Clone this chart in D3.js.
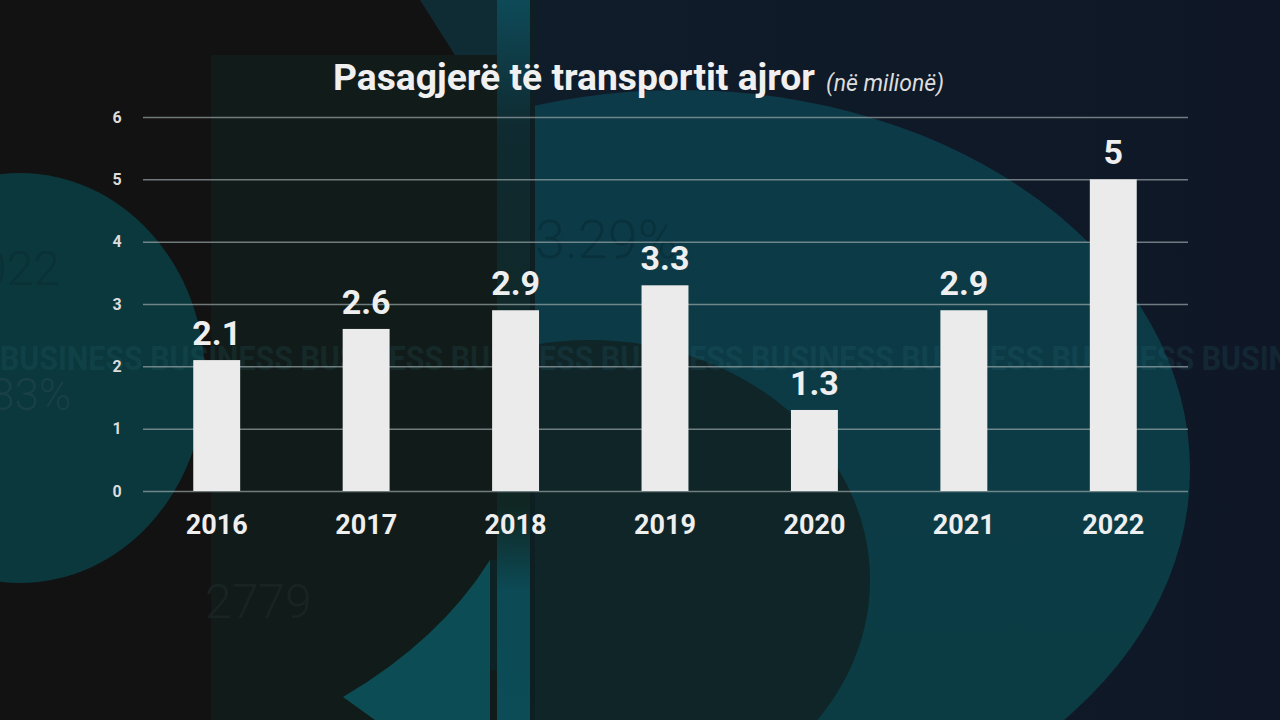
<!DOCTYPE html>
<html lang="sq">
<head>
    <meta charset="UTF-8">
    <script src="https://cdn.jsdelivr.net/npm/d3@7/dist/d3.min.js"></script>
    <title>Pasagjerë të transportit ajror</title>
    <style>
        body { margin: 0; background: #111; overflow: hidden; }
        svg { display: block; }
    </style>
</head>
<body>
    <svg width="1280" height="720"></svg>

    <script>
        // data
        const years = ['2016', '2017', '2018', '2019', '2020', '2021', '2022'];
        const passengers = [2.1, 2.6, 2.9, 3.3, 1.3, 2.9, 5];
        const yTicks = [0, 1, 2, 3, 4, 5, 6];
        const title = 'Pasagjerë të transportit ajror';
        const subtitle = '(në milionë)';

        const svg = d3.select('svg');
        const W = 1280, H = 720;

        // background (tv graphic look)
        const defs = svg.append('defs');
        const navy = defs.append('linearGradient').attr('id', 'navy')
            .attr('x1', 0).attr('y1', 0).attr('x2', 1).attr('y2', 0);
        navy.append('stop').attr('offset', '0%').attr('stop-color', '#0f202b');
        navy.append('stop').attr('offset', '100%').attr('stop-color', '#0f1726');

        const teal = defs.append('linearGradient').attr('id', 'teal')
            .attr('x1', 0).attr('y1', 0).attr('x2', 0).attr('y2', 1);
        teal.append('stop').attr('offset', '0%').attr('stop-color', '#0c3a48');
        teal.append('stop').attr('offset', '100%').attr('stop-color', '#0b3c42');

        const strip = defs.append('linearGradient').attr('id', 'strip')
            .attr('x1', 0).attr('y1', 0).attr('x2', 0).attr('y2', 1);
        strip.append('stop').attr('offset', '0%').attr('stop-color', '#0e4a58');
        strip.append('stop').attr('offset', '18%').attr('stop-color', '#0f2a30');
        strip.append('stop').attr('offset', '70%').attr('stop-color', '#102622');
        strip.append('stop').attr('offset', '82%').attr('stop-color', '#0c4a55');
        strip.append('stop').attr('offset', '100%').attr('stop-color', '#0b4c56');

        const bg = svg.append('g');
        bg.append('rect').attr('width', W).attr('height', H).attr('fill', 'url(#navy)');
        // big teal bowl
        bg.append('ellipse').attr('cx', 680).attr('cy', 470).attr('rx', 510).attr('ry', 380)
            .attr('fill', 'url(#teal)');
        // dark counter of the bowl
        bg.append('ellipse').attr('cx', 590).attr('cy', 580).attr('rx', 280).attr('ry', 240)
            .attr('fill', '#0f2528');
        // left black block
        bg.append('rect').attr('x', 0).attr('y', 0).attr('width', 535).attr('height', H).attr('fill', '#121212');
        // left teal round shape
        bg.append('ellipse').attr('cx', 20).attr('cy', 378).attr('rx', 185).attr('ry', 205)
            .attr('fill', '#0b383d');
        // top diagonal piece
        bg.append('path').attr('d', 'M420,0 L497,0 L497,60 L458,60 Z').attr('fill', '#0f2c35');
        // dark green panel
        bg.append('rect').attr('x', 211).attr('y', 55).attr('width', 286).attr('height', H - 55)
            .attr('fill', '#111b19');
        // glass strip
        bg.append('rect').attr('x', 497).attr('y', 0).attr('width', 33).attr('height', H).attr('fill', 'url(#strip)');
        bg.append('rect').attr('x', 530).attr('y', 0).attr('width', 5).attr('height', H).attr('fill', '#0e1f24');
        bg.append('path').attr('d', 'M343,697 Q440,640 490,560 L490,720 L375,720 Z').attr('fill', '#0c4d55');
        bg.append('rect').attr('x', 490).attr('y', 560).attr('width', 7).attr('height', 110).attr('fill', '#0d2225');

        // faint decorative texts
        const faint = bg.append('g').attr('font-family', 'Roboto, sans-serif');
        faint.append('text').attr('x', 0).attr('y', 370)
            .attr('font-size', 34).attr('font-weight', 700).attr('fill', '#2c7480').attr('opacity', 0.16)
            .attr('textLength', W + 10).attr('lengthAdjust', 'spacingAndGlyphs')
            .text('BUSINESS BUSINESS BUSINESS BUSINESS BUSINESS BUSINESS BUSINESS BUSINESS BUSIN');
        faint.append('text').attr('x', 535).attr('y', 258).attr('font-size', 54).attr('font-weight', 300)
            .attr('fill', '#051d24').attr('opacity', 0.3).text('3.29%');
        faint.append('text').attr('x', -10).attr('y', 410).attr('font-size', 44).attr('font-weight', 300)
            .attr('fill', '#2b4a4f').attr('opacity', 0.45).text('83%');
        faint.append('text').attr('x', 205).attr('y', 618).attr('font-size', 48).attr('font-weight', 300)
            .attr('fill', '#1f2b28').attr('opacity', 0.6).text('2779');
        faint.append('text').attr('x', -20).attr('y', 285).attr('font-size', 48).attr('font-weight', 300)
            .attr('fill', '#0a2d30').attr('opacity', 0.6).text('022');

        // scales
        const x = d3.scaleBand()
            .domain(years)
            .range([142, 1188])
            .paddingInner(0.686)
            .paddingOuter(0.343);

        const y = d3.scaleLinear()
            .domain([0, 6])
            .range([491, 117]);

        // grid + y labels
        const yAxis = d3.axisLeft(y).tickValues(yTicks).tickSize(-(1188 - 143)).tickPadding(20)
            .tickFormat(d3.format('d'));
        const gy = svg.append('g')
            .attr('transform', 'translate(143,0)')
            .call(yAxis);
        gy.select('.domain').remove();
        gy.selectAll('.tick line').attr('stroke', '#9aa6a8').attr('stroke-opacity', 0.7).attr('stroke-width', 1.5);
        gy.selectAll('.tick text')
            .attr('fill', '#dcdcdc').attr('font-family', 'Roboto, sans-serif')
            .attr('font-size', 16).attr('font-weight', 700)
            .attr('text-anchor', 'middle').attr('x', -26);

        // bars
        svg.append('g')
            .selectAll('rect')
            .data(passengers)
            .enter()
            .append('rect')
            .attr('x', (d, i) => x(years[i]))
            .attr('y', d => y(d))
            .attr('width', x.bandwidth())
            .attr('height', d => y(0) - y(d))
            .attr('fill', '#ebebeb');

        // value labels
        svg.append('g')
            .selectAll('text')
            .data(passengers)
            .enter()
            .append('text')
            .attr('x', (d, i) => x(years[i]) + x.bandwidth() / 2)
            .attr('y', d => y(d) - 15)
            .attr('text-anchor', 'middle')
            .attr('font-family', 'Roboto, sans-serif')
            .attr('font-size', 34)
            .attr('font-weight', 700)
            .attr('fill', '#efefef')
            .text(d => d);

        // x axis (years)
        const gx = svg.append('g')
            .attr('transform', `translate(0, ${y(0)})`)
            .call(d3.axisBottom(x).tickSize(0).tickPadding(24));
        gx.select('.domain').remove();
        gx.selectAll('.tick text')
            .attr('fill', '#efefef').attr('font-family', 'Roboto, sans-serif')
            .attr('font-size', 27).attr('font-weight', 700);

        // title
        svg.append('text')
            .attr('x', 333).attr('y', 90)
            .attr('font-family', 'Roboto, sans-serif')
            .attr('font-size', 36).attr('font-weight', 700)
            .attr('fill', '#f0f0f0')
            .attr('textLength', 482).attr('lengthAdjust', 'spacingAndGlyphs')
            .text(title);
        svg.append('text')
            .attr('x', 826).attr('y', 91)
            .attr('font-family', 'Roboto, sans-serif')
            .attr('font-size', 23).attr('font-style', 'italic')
            .attr('fill', '#dddddd')
            .text(subtitle);
    </script>
</body>
</html>
